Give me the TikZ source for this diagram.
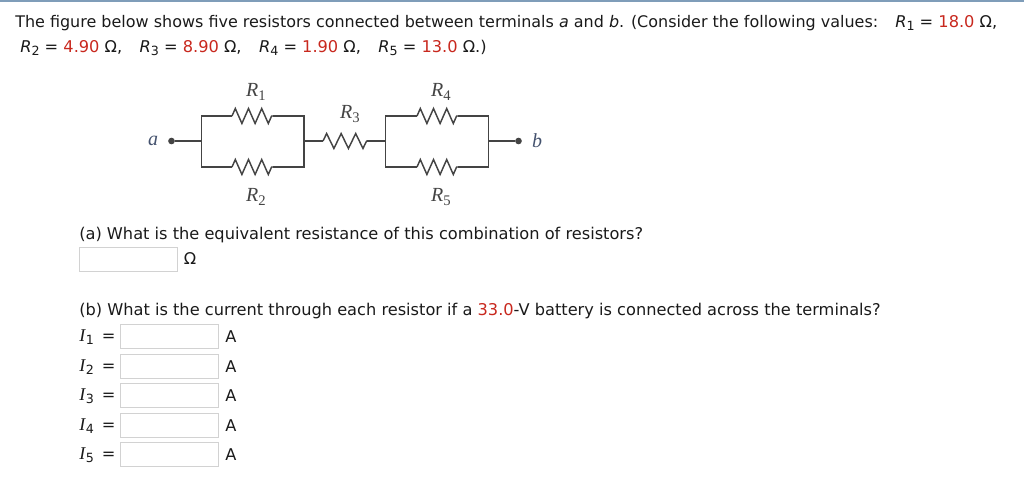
\documentclass[tikz,border=0pt]{standalone}
\usepackage{fontspec}
\setmainfont{DejaVu Sans}
\newfontfamily\figfont{Liberation Serif}
\usetikzlibrary{decorations.pathmorphing}
\definecolor{valred}{HTML}{C8281E}
\definecolor{rulecol}{HTML}{7F9DB9}
\definecolor{wirecol}{HTML}{444444}
\definecolor{termcol}{HTML}{44526E}
\definecolor{textcol}{HTML}{1A1A1A}
\definecolor{boxcol}{HTML}{D2D2D2}
\newcommand{\val}[1]{\textcolor{valred}{#1}}
\newcommand{\sym}[2]{\textit{#1}\raisebox{-0.35ex}{\fontsize{9.5}{11}\selectfont #2}}
\newcommand{\figsym}[2]{\textit{#1}\raisebox{-0.4ex}{\fontsize{11}{13}\selectfont #2}}
\tikzset{
    line/.style={font=\fontsize{12.15}{14}\selectfont,text=textcol,anchor=base west,inner sep=0pt},
    wire/.style={draw=wirecol,line width=1.1pt},
    resistor/.style={decorate,decoration={zigzag,segment length=#1,amplitude=5.6pt}},
    termdot/.style={circle,fill=wirecol,inner sep=0pt,minimum size=5pt},
    figlabel/.style={font=\figfont\fontsize{15}{17}\selectfont,text=wirecol,inner sep=0pt},
    fieldbox/.style={draw=boxcol,line width=0.7pt,fill=white,minimum width=73.5pt,minimum height=18pt,inner sep=0pt}
}
\begin{document}
\begin{tikzpicture}[x=0.75pt,y=-0.75pt]
    \useasboundingbox (0,0) rectangle (1024,490);
    \coordinate (ruleL) at (0,1);
    \coordinate (ruleR) at (1024,1);
    \draw[rulecol,line width=1.5pt] (ruleL) -- (ruleR);

    \node[line,font=\fontsize{11.98}{14}\selectfont] (line1) at (15,27) {The figure below shows five resistors connected between terminals \textit{a} and \textit{b}. (Consider the following values:};
    \node[line] (line1b) at (895,27) {\sym{R}{1} = \val{18.0} Ω,};
    \node[line] (line2) at (20,52) {\sym{R}{2} = \val{4.90} Ω,\hspace{1.5pt}\ \ \ \sym{R}{3} = \val{8.90} Ω,\hspace{1.5pt}\ \ \ \sym{R}{4} = \val{1.90} Ω,\hspace{1.5pt}\ \ \ \sym{R}{5} = \val{13.0} Ω.)};

    % circuit
    \foreach \n/\xa/\xb/\ya/\len in {1/232/273/116/9.9pt, 2/232/273/167/9.9pt, 3/323/367/141/10.9pt, 4/417/458/116/9.9pt, 5/417/458/167/9.9pt}
    {
        \coordinate (r\n w) at (\xa,\ya);
        \coordinate (r\n e) at (\xb,\ya);
        \draw[wire,resistor=\len] (r\n w) -- (r\n e);
    }
    \node[termdot] (a) at (171.5,141) {};
    \node[termdot] (b) at (518.5,141) {};
    \coordinate (j1) at (201.5,141);
    \coordinate (j2) at (304,141);
    \coordinate (j3) at (385.5,141);
    \coordinate (j4) at (488.5,141);
    \draw[wire] (a) -- (j1);
    \draw[wire] (r1w) -| (j1) |- (r2w);
    \draw[wire] (r1e) -| (j2) |- (r2e);
    \draw[wire] (j2) -- (r3w);
    \draw[wire] (r3e) -- (j3);
    \draw[wire] (r4w) -| (j3) |- (r5w);
    \draw[wire] (r4e) -| (j4) |- (r5e);
    \draw[wire] (j4) -- (b);

    \node[figlabel] (labelR1) at (256,92) {\figsym{R}{1}};
    \node[figlabel] (labelR2) at (256,197) {\figsym{R}{2}};
    \node[figlabel] (labelR3) at (350,114) {\figsym{R}{3}};
    \node[figlabel] (labelR4) at (441,92) {\figsym{R}{4}};
    \node[figlabel] (labelR5) at (441,197) {\figsym{R}{5}};
    \node[figlabel,text=termcol] (labela) at (153,141) {\textit{a}};
    \node[figlabel,text=termcol] (labelb) at (537,141) {\textit{b}};

    % part a
    \node[line] (parta) at (79,239) {(a) What is the equivalent resistance of this combination of resistors?};
    \node[fieldbox] (boxa) at (128.5,259) {};
    \node[line,anchor=center] (unita) at (190,259) {Ω};

    % part b
    \node[line] (partb) at (79,315) {(b) What is the current through each resistor if a \val{33.0}-V battery is connected across the terminals?};
    \foreach \n/\y in {1/336.5, 2/366.5, 3/395.7, 4/425.3, 5/454.7}
    {
        \node[fieldbox] (box\n) at (169.3,\y) {};
        \node[line,anchor=center] (unit\n) at (231,\y) {A};
        \node[line,anchor=base west] (eq\n) at (79,\y+5) {{\figfont\fontsize{13.5}{15}\selectfont\textit{I}}\raisebox{-0.35ex}{\fontsize{9.5}{11}\selectfont \n}\hspace{2pt}\ =};
    }
\end{tikzpicture}
\end{document}
